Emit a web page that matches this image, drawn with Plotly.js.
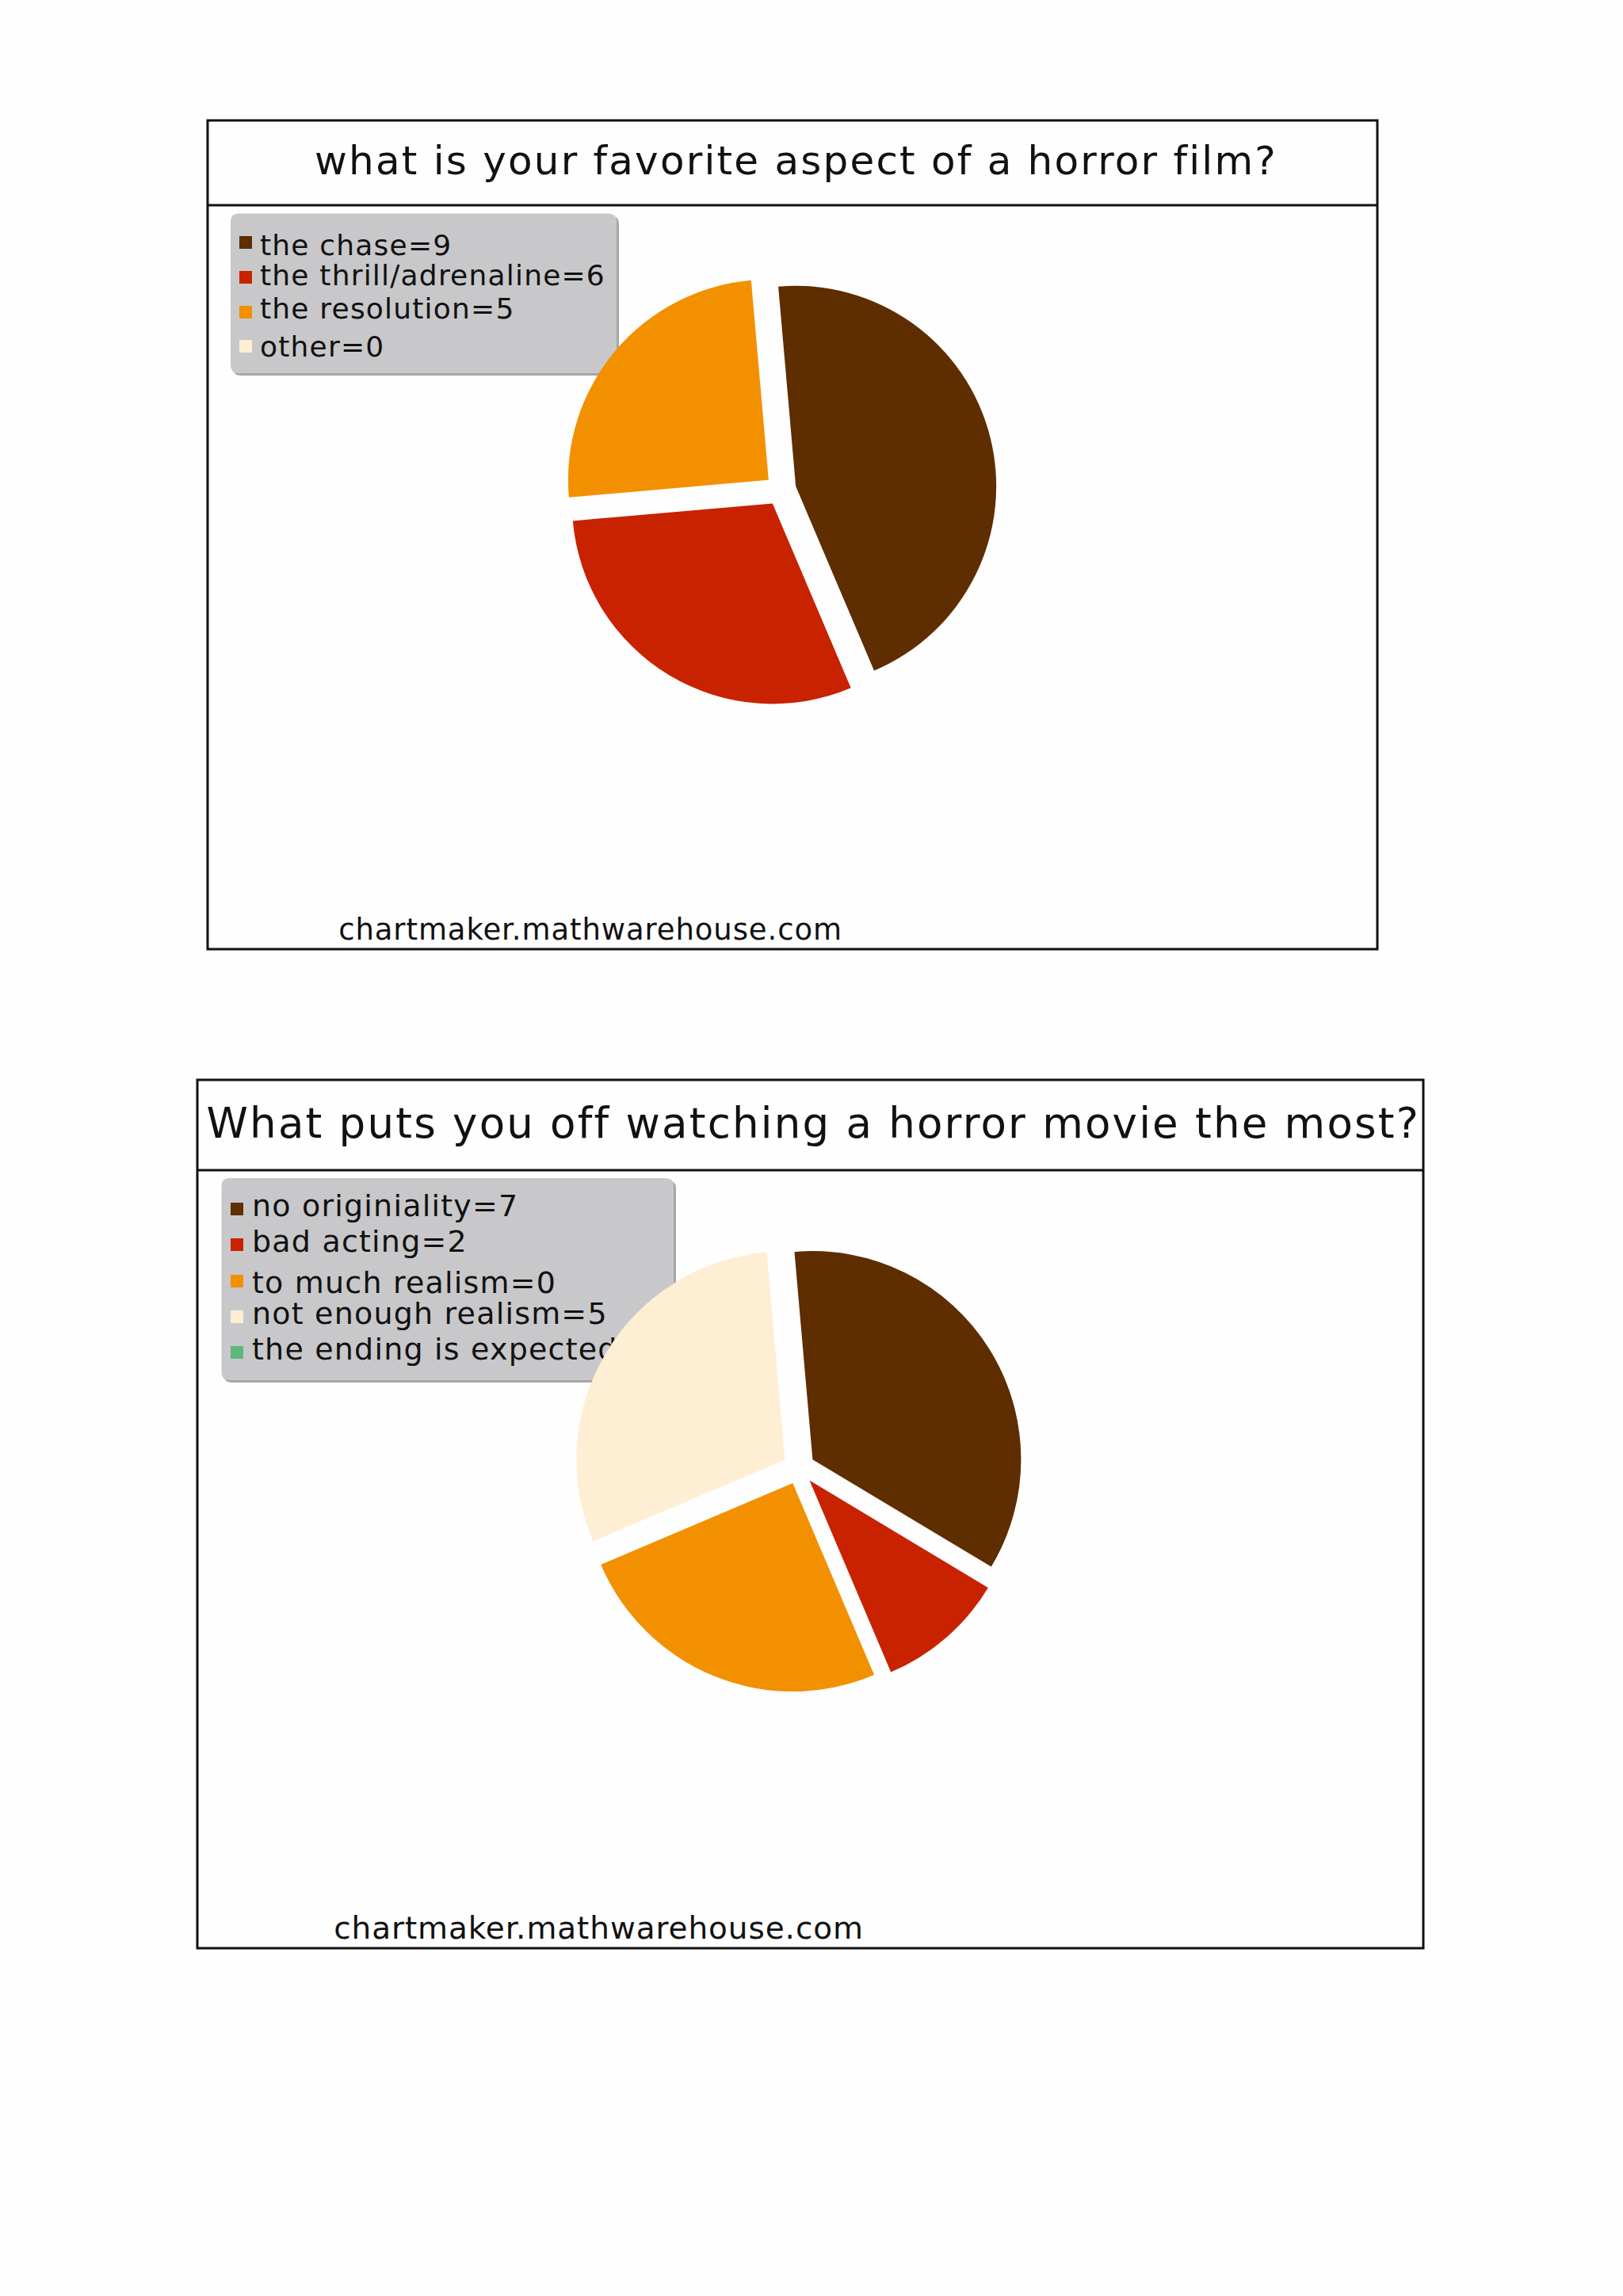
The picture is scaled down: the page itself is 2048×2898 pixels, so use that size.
<!DOCTYPE html>
<html>
<head>
<meta charset="utf-8">
<script src="https://cdn.plot.ly/plotly-3.0.1.min.js"></script>
<style>
  body { margin: 0; background: #fefefe; }
  #wrap { position: relative; width: 2048px; height: 2898px; }
  #frame, #pies { position: absolute; left: 0; top: 0; }
  /* the original chart text is a bit wider spaced than DejaVu;
     global rule so plotly's hidden text tester measures it too */
  .annotation-text { letter-spacing: 1.2px; }
  #frame .annotation[data-index="0"] .annotation-text,
  #frame .annotation[data-index="1"] .annotation-text { letter-spacing: 2.2px; }
  #frame .annotation[data-index="2"] .annotation-text,
  #frame .annotation[data-index="3"] .annotation-text { letter-spacing: 0.9px; }
</style>
</head>
<body>
<div id="wrap">
  <div id="frame"></div>
  <div id="pies"></div>
</div>
<script>
// data
const titles = [
    'what is your favorite aspect of a horror film?',
    'What puts you off watching a horror movie the most?'
]
const aspectLabels = ['the chase', 'the thrill/adrenaline', 'the resolution', 'other']
const aspectValues = [9, 6, 5, 0]
const putOffLabels = ['no originiality', 'bad acting', 'to much realism', 'not enough realism', 'the ending is expected']
const putOffValues = [7, 2, 0, 5, 6]
const palette = ['#5e2d00', '#c92200', '#f39000', '#feeed4', '#5fb77c']
const watermark = 'chartmaker.mathwarehouse.com'

const W = 2048, H = 2898
const FONT = 'DejaVu Sans'

// page geometry (pixels)
const charts = [
    {
        labels: aspectLabels, values: aspectValues,
        box: [262, 152, 1738, 1198], sep: 259,
        title: {cx: 1004.5, base: 220.5, size: 50},
        legend: {box: [291, 269.5, 778, 471], sqX: 302, sqTops: [298, 342, 386, 429], textX: 328,
                 bases: [321.5, 359.5, 402, 450], size: 36},
        wm: {cx: 744.5, base: 1186.5, size: 37},
        pie: {cx: 985, cy: 618.5, r: 253, pull: 0.078}
    },
    {
        labels: putOffLabels, values: putOffValues,
        box: [249, 1363, 1796, 2459], sep: 1477,
        title: {cx: 1026.5, base: 1435.5, size: 53},
        legend: {box: [279.5, 1487, 850, 1742], sqX: 291, sqTops: [1518, 1563, 1609, 1654, 1699], textX: 318,
                 bases: [1535, 1580, 1632, 1671, 1716], size: 38},
        wm: {cx: 755, base: 2446.5, size: 39},
        pie: {cx: 1008, cy: 1853, r: 263, pull: 0.078}
    }
]

// middle of the text box sits 0.346em above the baseline for DejaVu Sans
function text(x, base, str, size, anchor) {
    return {
        xref: 'x', yref: 'y', x: x, y: base - 0.346 * size,
        text: str, showarrow: false, xanchor: anchor || 'left', yanchor: 'middle',
        borderpad: 0, borderwidth: 0,
        font: {family: FONT, size: size, color: '#111111'}
    }
}

function roundRect(x0, y0, x1, y1, r) {
    return `M${x0 + r},${y0} L${x1 - r},${y0} Q${x1},${y0} ${x1},${y0 + r} ` +
        `L${x1},${y1 - r} Q${x1},${y1} ${x1 - r},${y1} L${x0 + r},${y1} ` +
        `Q${x0},${y1} ${x0},${y1 - r} L${x0},${y0 + r} Q${x0},${y0} ${x0 + r},${y0} Z`
}

let shapes = []
let annotations = []

charts.forEach((c, k) => annotations.push(text(c.title.cx, c.title.base, titles[k], c.title.size, 'center')))
charts.forEach(c => annotations.push(text(c.wm.cx, c.wm.base, watermark, c.wm.size, 'center')))

charts.forEach(c => {
    const lg = c.legend
    const [bx0, by0, bx1, by1] = lg.box
    // legend panel with its little drop shadow
    shapes.push({type: 'path', xref: 'x', yref: 'y', path: roundRect(bx0 + 3, by0 + 3, bx1 + 3, by1 + 3, 10),
        fillcolor: '#a6a6a6', line: {width: 0}})
    shapes.push({type: 'path', xref: 'x', yref: 'y', path: roundRect(bx0, by0, bx1, by1, 10),
        fillcolor: '#c8c8ca', line: {width: 0}})

    for (let i = 0; i < c.labels.length; i++) {
        shapes.push({type: 'rect', xref: 'x', yref: 'y',
            x0: lg.sqX, x1: lg.sqX + 16, y0: lg.sqTops[i], y1: lg.sqTops[i] + 16,
            fillcolor: palette[i], line: {width: 0}})
        annotations.push(text(lg.textX, lg.bases[i], c.labels[i] + '=' + c.values[i], lg.size))
    }

    const [x0, y0, x1, y1] = c.box
    shapes.push({type: 'rect', xref: 'x', yref: 'y', x0: x0, x1: x1, y0: y0, y1: y1,
        fillcolor: 'rgba(0,0,0,0)', line: {color: '#111111', width: 3}})
    shapes.push({type: 'line', xref: 'x', yref: 'y', x0: x0, x1: x1, y0: c.sep, y1: c.sep,
        line: {color: '#111111', width: 3}})
})

const frameLayout = {
    width: W, height: H,
    margin: {l: 0, r: 0, t: 0, b: 0},
    paper_bgcolor: '#fefefe', plot_bgcolor: 'rgba(0,0,0,0)',
    xaxis: {range: [0, W], visible: false, fixedrange: true},
    yaxis: {range: [H, 0], visible: false, fixedrange: true},
    showlegend: false,
    shapes: shapes,
    annotations: annotations
}

Plotly.newPlot('frame', [], frameLayout, {staticPlot: true})

// the chart maker skips empty answers and hands out the colours in order
function pieTrace(c) {
    let labels = [], values = [], colors = []
    for (let i = 0; i < c.values.length; i++) {
        if (c.values[i] > 0) {
            labels.push(c.labels[i])
            values.push(c.values[i])
            colors.push(palette[labels.length - 1])
        }
    }
    const p = c.pie
    const half = p.r * (1 + p.pull)
    return {
        type: 'pie',
        labels: labels,
        values: values,
        sort: false,
        direction: 'clockwise',
        rotation: -5,
        pull: p.pull,
        textinfo: 'none',
        hoverinfo: 'skip',
        marker: {colors: colors, line: {width: 0}},
        domain: {
            x: [(p.cx - half) / W, (p.cx + half) / W],
            y: [1 - (p.cy + half) / H, 1 - (p.cy - half) / H]
        }
    }
}

Plotly.newPlot('pies', charts.map(pieTrace), {
    width: W, height: H,
    margin: {l: 0, r: 0, t: 0, b: 0},
    paper_bgcolor: 'rgba(0,0,0,0)',
    showlegend: false
}, {staticPlot: true})
</script>
</body>
</html>
